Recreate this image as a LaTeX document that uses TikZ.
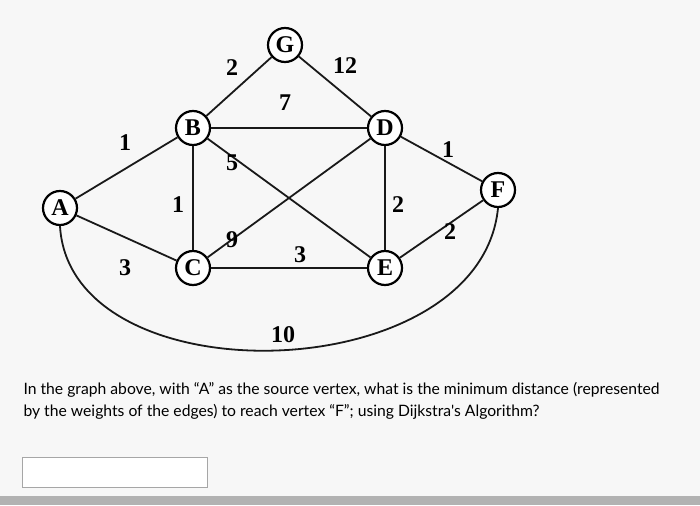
\documentclass[tikz,border=0pt]{standalone}
\usepackage{fontspec}
\setmainfont{Liberation Serif}
\newfontfamily\qfont{Lato}
\begin{document}
\begin{tikzpicture}[x=1pt,y=-1pt,
  vtx/.style={circle,draw,line width=2.2pt,minimum size=34pt,inner sep=0pt,font=\bfseries\fontsize{24}{24}\selectfont,fill=white},
  edge/.style={line width=1.8pt,draw=black!90},
  wt/.style={font=\bfseries\fontsize{24}{24}\selectfont}]
\fill[black!3] (0,0) rectangle (700,505);
\useasboundingbox (0,0) rectangle (700,505);
\fill[black!30] (0,496) rectangle (700,505);
\node[vtx] (A) at (60,208) {A};
\node[vtx] (B) at (193,128) {B};
\node[vtx] (C) at (193,268) {C};
\node[vtx] (G) at (285,45) {G};
\node[vtx] (D) at (385,128) {D};
\node[vtx] (E) at (385,268) {E};
\node[vtx] (F) at (498,190) {F};
\draw[edge] (A)--(B);
\draw[edge] (A)--(C);
\draw[edge] (B)--(C);
\draw[edge] (B)--(G);
\draw[edge] (G)--(D);
\draw[edge] (B)--(D);
\draw[edge] (B)--(E);
\draw[edge] (C)--(D);
\draw[edge] (C)--(E);
\draw[edge] (D)--(E);
\draw[edge] (D)--(F);
\draw[edge] (E)--(F);
\draw[edge] (A.south) .. controls (70,400) and (480,390) .. (F.south);
\node[wt] (w1) at (232,68) {2};
\node[wt] (w2) at (345,66) {12};
\node[wt] (w3) at (285,103) {7};
\node[wt] (w4) at (125,143) {1};
\node[wt] (w5) at (232,163) {5};
\node[wt] (w6) at (178,205) {1};
\node[wt] (w7) at (232,240) {9};
\node[wt] (w8) at (300,255) {3};
\node[wt] (w9) at (125,268) {3};
\node[wt] (w10) at (398,205) {2};
\node[wt] (w11) at (448,150) {1};
\node[wt] (w12) at (450,232) {2};
\node[wt] (w13) at (283,335) {10};
\node[anchor=west,font=\qfont\fontsize{15.7}{15.7}\selectfont] (q1) at (20,390) {In the graph above, with “A” as the source vertex, what is the minimum distance (represented};
\node[anchor=west,font=\qfont\fontsize{15.7}{15.7}\selectfont] (q2) at (20,412) {by the weights of the edges) to reach vertex “F”; using Dijkstra's Algorithm?};
\draw[black!35,fill=white] (22,457) rectangle (207,487);
\end{tikzpicture}
\end{document}
